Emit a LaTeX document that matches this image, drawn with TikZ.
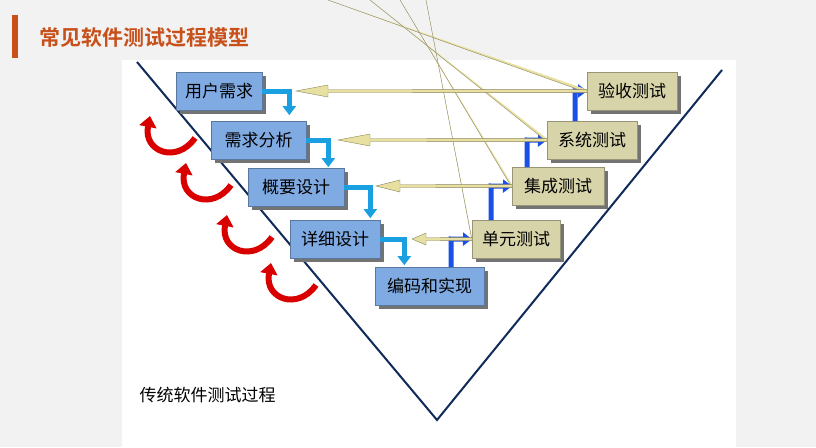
\documentclass[tikz,border=0pt]{standalone}
\usepackage{fontspec}
\newfontfamily\cjk{Noto Sans CJK SC}
\newfontfamily\cjkb{Noto Sans CJK SC Bold}
\usetikzlibrary{arrows.meta,shadows,calc}
\definecolor{bg}{HTML}{F2F2F2}
\definecolor{org}{HTML}{C8501A}
\definecolor{navy}{HTML}{102A5A}
\definecolor{bbox}{HTML}{80AAE2}
\definecolor{tbox}{HTML}{D8D4AA}
\definecolor{cyanA}{HTML}{1AA0E0}
\definecolor{blueA}{HTML}{1A50E8}
\definecolor{yel}{HTML}{E8E0A0}
\begin{document}
\begin{tikzpicture}[x=1pt,y=-1pt,
 dev/.style={draw=bbox!70!black,line width=0.3pt,fill=bbox,minimum height=38pt,inner sep=0pt,font=\cjk\fontsize{17}{17}\selectfont,drop shadow={shadow xshift=4pt,shadow yshift=-4pt,fill=black!55,opacity=1}},
 tst/.style={dev,fill=tbox,draw=tbox!70!black},
 down/.style={cyanA,line width=5pt,-{Triangle[length=9pt,width=13pt]}},
 up/.style={blueA,line width=5pt,-{Triangle[length=9pt,width=13pt]}},
 back/.style={draw=yel!60!black,fill=yel,line width=0.4pt},
 redarr/.style={red!85!black,line width=6pt,-{Triangle[length=11pt,width=17pt]}}]
\useasboundingbox (0,0) rectangle (816,447);
\fill[bg] (0,0) rectangle (816,447);
\fill[white] (122,60) rectangle (736,447);
\fill[org] (12,15) rectangle (18,58);
\node[anchor=west,text=org,font=\cjkb\fontsize{21}{21}\selectfont] (title) at (36,38) {常见软件测试过程模型};
\coordinate (vl) at (137,62); \coordinate (vb) at (437,420); \coordinate (vr) at (722,70);
\draw[navy,line width=2pt] (vl) -- (vb) -- (vr);
% dev boxes
\node[dev,minimum width=86pt,anchor=north west] (a) at (176,72) {用户需求};
\node[dev,minimum width=95pt,anchor=north west] (b) at (211,121) {需求分析};
\node[dev,minimum width=96pt,anchor=north west] (c) at (248,168) {概要设计};
\node[dev,minimum width=90pt,anchor=north west] (d) at (290,220) {详细设计};
\node[dev,minimum width=109pt,anchor=north west] (e) at (375,267) {编码和实现};
% test boxes
\node[tst,minimum width=88pt,anchor=north west] (u) at (472,220) {单元测试};
\node[tst,minimum width=92pt,anchor=north west] (i) at (512,167) {集成测试};
\node[tst,minimum width=90pt,anchor=north west] (s) at (547,121) {系统测试};
\node[tst,minimum width=90pt,anchor=north west] (v) at (587,72) {验收测试};
% down arrows
\draw[down] (a.east) -- ++(27,0) -- ++(0,24);
\draw[down] (b.east) -- ++(22,0) -- ++(0,27);
\draw[down] (c.east) -- ++(26,0) -- ++(0,31);
\draw[down] (d.east) -- ++(24,0) -- ++(0,26);
% up arrows
\coordinate (ue) at (451,239); \coordinate (ui) at (491,186);
\coordinate (us) at (527,140); \coordinate (uv) at (575,91);
\draw[up] (ue |- e.north) -- (ue) -- (u.west);
\draw[up] (ui |- u.north) -- (ui) -- (i.west);
\draw[up] (us |- i.north) -- (us) -- (s.west);
\draw[up] (uv |- s.north) -- (uv) -- (v.west);
% back arrows
\foreach \src/\tx/\len in {v/296/32, s/338/32, i/376/24, u/412/14}{
 \draw[back] ($(\src.west)+(0,-1.5)$) -- ($(\src.west)+(0,1.5)$)
   -- ($(\src.west)!1!(\tx+\len,0)$) ;
}
\foreach \y/\src/\tx/\len in {91/v/296/32, 140/s/338/32, 186/i/376/24, 239/u/412/14}{
 \draw[back] (\src.west) ++(0,-1.5) -- (\tx+\len,\y-1.5) -- (\tx+\len,\y-6) -- (\tx,\y)
   -- (\tx+\len,\y+6) -- (\tx+\len,\y+1.5) -- ($(\src.west)+(0,1.5)$) -- cycle;
}
% red curved arrows
\foreach \bx/\by in {183/128, 219/175, 260/227, 304/275}{
 \coordinate (r1) at (\bx+12,\by+10);
 \draw[redarr] (r1) .. controls (\bx-6,\by+36) and (\bx-40,\by+24) .. (\bx-33,\by-12);
}
\node[anchor=west,font=\cjk\fontsize{17}{17}\selectfont] (cap) at (136,395) {传统软件测试过程};
\end{tikzpicture}
\end{document}
